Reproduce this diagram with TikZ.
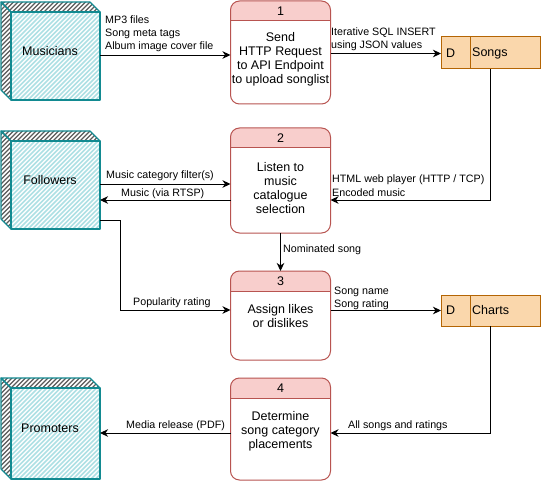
\documentclass[tikz,border=0pt]{standalone}
\usepackage{fontspec}
\setmainfont{Liberation Sans}
\usetikzlibrary{arrows.meta,calc}
\definecolor{entline}{HTML}{128A91}
\definecolor{enthatch}{HTML}{AEE0E4}
\definecolor{sidehatch}{HTML}{5A5A5A}
\definecolor{procline}{HTML}{B85450}
\definecolor{prochead}{HTML}{F8CECC}
\definecolor{storefill}{HTML}{FAD7AC}
\definecolor{storeline}{HTML}{B46504}
\tikzset{
  main/.style={font=\fontsize{12.5}{14}\selectfont, align=center, inner sep=0pt, text=black},
  lbl/.style={font=\fontsize{10.7}{13.4}\selectfont, align=left, inner sep=0pt, anchor=west, text=black},
  arr/.style={draw=black, line width=0.9pt, -{Stealth[length=8pt,width=7.5pt,inset=2.5pt]}},
  procshape/.style={minimum width=100pt, inner sep=0pt, outer sep=0pt},
  entshape/.style={minimum width=100pt, inner sep=0pt, outer sep=0pt, font=\fontsize{12.5}{14}\selectfont, text=black},
  storeshape/.style={draw=storeline, fill=storefill, line width=1pt, minimum width=99pt, inner sep=0pt, outer sep=0pt},
  hatchfront/.style={draw=enthatch, line width=1.6pt},
  hatchside/.style={draw=sidehatch, line width=1.2pt},
  entedge/.style={draw=entline, line width=1.1pt, line join=round},
}
% entity: name, top, bottom, text
\newcommand\ddent[4]{%
  \begin{scope}
    \clip (11,#2+10) rectangle (100,#3);
    \foreach \k in {-110,-105.5,...,105} \draw[hatchfront] (\k,#3+3) -- ++(108,-108);
  \end{scope}
  \begin{scope}
    \clip (1,#2) -- (90,#2) -- (100,#2+10) -- (11,#2+10) -- cycle;
    \foreach \k in {-110,-105.5,...,105} \draw[hatchside] (\k,#3+3) -- ++(108,-108);
  \end{scope}
  \begin{scope}
    \clip (1,#2) -- (11,#2+10) -- (11,#3) -- (1,#3-10) -- cycle;
    \foreach \k in {-110,-105.5,...,105} \draw[hatchside] (\k,#3+3) -- ++(108,-108);
  \end{scope}
  \draw[entedge] (11,#2+10) rectangle (100,#3);
  \draw[entedge] (1,#2) -- (90,#2) -- (100,#2+10) -- (11,#2+10) -- cycle;
  \draw[entedge] (1,#2) -- (11,#2+10) -- (11,#3) -- (1,#3-10) -- cycle;
  \node[entshape, minimum height={#3-#2}] (#1) at (50,{(#2+#3)/2}) {#4};
}
% process: name, cx, top, bottom, number, text y, text
\newcommand\ddproc[7]{%
  \node[procshape, minimum height={#4-#3}] (#1) at (#2,{(#3+#4)/2}) {};
  \fill[white, rounded corners=9pt] (#1.north west) rectangle (#1.south east);
  \begin{scope}
    \clip[rounded corners=9pt] (#1.north west) rectangle (#1.south east);
    \fill[prochead] (#1.north west) rectangle ([yshift=-20pt]#1.north east);
  \end{scope}
  \draw[procline, line width=1pt, rounded corners=9pt] (#1.north west) rectangle (#1.south east);
  \draw[procline, line width=1pt] ([yshift=-20pt]#1.north west) -- ([yshift=-20pt]#1.north east);
  \node[main] (#1n) at (#2,#3+10) {#5};
  \node[main] (#1t) at (#2,#6) {#7};
}
% store: name, top, bottom, text
\newcommand\ddstore[4]{%
  \node[storeshape, minimum height={#3-#2}] (#1) at (490.5,{(#2+#3)/2}) {};
  \draw[storeline, line width=1pt] ([xshift=29.5pt]#1.north west) -- ([xshift=29.5pt]#1.south west);
  \node[main, anchor=west] (#1d) at ([xshift=5pt]#1.west) {D};
  \node[main, anchor=west] (#1l) at ([xshift=31pt]#1.west) {#4};
}
\begin{document}
\begin{tikzpicture}[x=1pt,y=-1pt]
\useasboundingbox (0,0) rectangle (543,481);
\fill[white] (0,0) rectangle (543,481);

% entities
\ddent{mus}{2}{100}{Musicians}
\ddent{fol}{131}{229}{Followers}
\ddent{pro}{378}{479}{Promoters}

% processes
\ddproc{p1}{280.5}{1}{104}{1}{59.5}{Send\\HTTP Request\\to API Endpoint\\to upload songlist}
\ddproc{p2}{280.5}{128}{233}{2}{188}{Listen to\\music\\catalogue\\selection}
\ddproc{p3}{280.5}{271}{360}{3}{316}{Assign likes\\or dislikes}
\ddproc{p4}{280.5}{378}{480}{4}{431}{Determine\\song category\\placements}

% stores
\ddstore{songs}{37}{69}{Songs}
\ddstore{charts}{295}{326}{Charts}

% connectors
\coordinate (a1) at ([yshift=-4pt]mus.east);
\draw[arr] (a1) -- (a1 -| p1.west);

\coordinate (a2) at ([yshift=-1pt]p1.east);
\draw[arr] (a2) -- (a2 -| songs.west);

\coordinate (a3) at ([yshift=-19.5pt]p2.east);
\draw[arr] (songs.south) |- (a3);

\coordinate (a4) at ([yshift=-4pt]fol.east);
\draw[arr] (a4) -- (a4 -| p2.west);

\coordinate (a5) at ([yshift=-19.5pt]p2.west);
\draw[arr] (a5) -- (a5 -| fol.east);

\coordinate (a6) at ([yshift=-40pt]fol.east);
\coordinate (a6b) at ([yshift=5.5pt]p3.west);
\draw[arr] (a6) -- ++(20pt,0) |- (a6b);

\draw[arr] (p2.south) -- (p3.north);

\coordinate (a8) at ([yshift=5pt]p3.east);
\draw[arr] (a8) -- (a8 -| charts.west);

\coordinate (a9) at ([yshift=-4pt]p4.east);
\draw[arr] (charts.south) |- (a9);

\coordinate (a10) at ([yshift=-4pt]p4.west);
\draw[arr] (a10) -- (a10 -| pro.east);

% labels
\node[lbl] (l1) at (105,33.7) {MP3 files\\Song meta tags\\Album image cover file};
\node[lbl] (l2) at (331,39.5) {Iterative SQL INSERT\\using JSON values};
\node[lbl] (l3) at (106,176) {Music category filter(s)};
\node[lbl] (l4) at (121,194) {Music (via RTSP)};
\node[lbl] (l5) at (332,185.5) {HTML web player (HTTP / TCP)\\Encoded music};
\node[lbl] (l6) at (283,250) {Nominated song};
\node[lbl] (l7) at (133,303) {Popularity rating};
\node[lbl] (l8) at (334,298.5) {Song name\\Song rating};
\node[lbl] (l9) at (348,425.5) {All songs and ratings};
\node[lbl] (l10) at (126,425.5) {Media release (PDF)};
\end{tikzpicture}
\end{document}
